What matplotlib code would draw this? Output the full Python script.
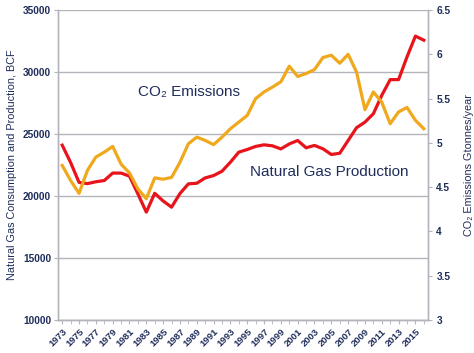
import matplotlib
matplotlib.use("Agg")
import matplotlib.pyplot as plt
from matplotlib.ticker import MultipleLocator, FuncFormatter

plt.rcParams["font.family"] = ["Liberation Sans", "DejaVu Sans"]

years = list(range(1973, 2017))

# natural gas production, BCF (left axis)
gas_production = [
    24100, 22700, 21100, 21000, 21150, 21250, 21850, 21850, 21600, 20170,
    18700, 20220, 19600, 19100, 20200, 20980, 21030, 21460, 21650, 22000,
    22730, 23540, 23750, 24000, 24130, 24050, 23800, 24200, 24480, 23890,
    24080, 23810, 23350, 23450, 24480, 25510, 25960, 26640, 28120, 29390,
    29390, 31220, 32900, 32570,
]

# CO2 emissions, Gtonnes/year (right axis)
co2_emissions = [
    4.745, 4.575, 4.43, 4.69, 4.84, 4.895, 4.96, 4.76, 4.66, 4.48,
    4.37, 4.605, 4.59, 4.61, 4.78, 4.99, 5.065, 5.028, 4.98, 5.065,
    5.16, 5.235, 5.31, 5.5, 5.575, 5.63, 5.69, 5.866, 5.75, 5.783,
    5.828, 5.964, 5.99, 5.90, 6.0, 5.80, 5.375, 5.575, 5.46, 5.216,
    5.35, 5.40, 5.255, 5.16,
]

navy = "#1f2d5a"
red = "#e8141b"
gold = "#f0a81c"
grey = "#b4b4bc"

fig = plt.figure(figsize=(4.74, 3.53), dpi=100)
ax = fig.add_axes([0.1224, 0.0935, 0.7806, 0.878])
ax2 = ax.twinx()

x = [i for i in range(len(years))]
ax.plot(x, gas_production, color=red, lw=2.3, zorder=3)
ax2.plot(x, co2_emissions, color=gold, lw=2.3, zorder=3)

ax.set_xlim(-0.5, len(years) - 0.5)
ax.set_ylim(10000, 35000)
ax.yaxis.set_major_locator(MultipleLocator(5000))
ax2.set_ylim(3, 6.5)
ax2.yaxis.set_major_locator(MultipleLocator(0.5))
ax2.yaxis.set_major_formatter(FuncFormatter(lambda v, p: f"{v:g}"))

ax.grid(axis="y", color=grey, lw=1)
ax.set_axisbelow(True)

ax.set_xticks(x[::2])
ax.set_xticklabels([str(y) for y in years[::2]], rotation=45, ha="right",
                   rotation_mode="anchor", fontsize=6.8, fontweight="bold", color=navy)
ax.set_xticks(x, minor=True)
ax.tick_params(axis="x", which="both", length=3, color=grey, pad=2)

ax.tick_params(axis="y", labelsize=7.3, colors=navy, length=3, pad=2)
for lab in ax.get_yticklabels():
    lab.set_fontweight("bold")
ax.tick_params(axis="y", color=grey)
ax2.tick_params(axis="y", labelsize=7.3, colors=navy, length=3, pad=3)
for lab in ax2.get_yticklabels():
    lab.set_fontweight("bold")
ax2.tick_params(axis="y", color=grey)

for a in (ax, ax2):
    a.spines["top"].set_visible(False)
    for s in ("left", "right", "bottom"):
        a.spines[s].set_color(grey)
        a.spines[s].set_linewidth(1)

ax.set_ylabel("Natural Gas Consumption and Production, BCF", fontsize=7.8,
              color=navy, labelpad=4)
ax2.set_ylabel("CO₂ Emissions Gtonnes/year", fontsize=7.8, color=navy, labelpad=10)

ax.text(0.215, 0.735, "CO₂ Emissions", transform=ax.transAxes, fontsize=11,
        color=navy, va="center", ha="left")
ax.text(0.52, 0.478, "Natural Gas Production", transform=ax.transAxes, fontsize=11,
        color=navy, va="center", ha="left")

fig.savefig("out.png", dpi=100)
